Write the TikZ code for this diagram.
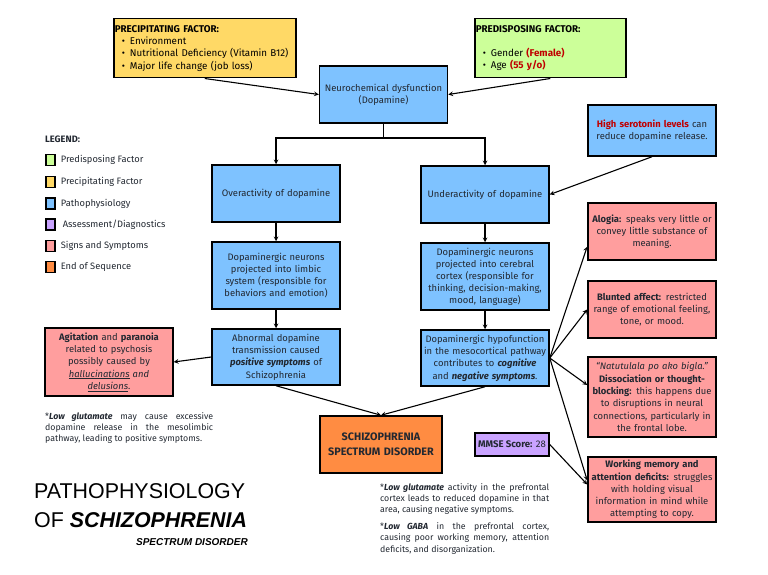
\documentclass[tikz,border=0pt]{standalone}
\usepackage{fontspec}
\setmainfont{Fira Sans}
\newfontfamily\titlefont{Liberation Sans}
\usetikzlibrary{arrows,positioning,calc}
\definecolor{predispgreen}{HTML}{CCFF99}
\definecolor{precipyellow}{HTML}{FFD966}
\definecolor{pathblue}{HTML}{7EC2FF}
\definecolor{assesspurple}{HTML}{C9A3FF}
\definecolor{signpink}{HTML}{FF9E9E}
\definecolor{endorange}{HTML}{FF8C42}
\definecolor{textred}{HTML}{C00000}
\definecolor{inktext}{HTML}{222831}
\hyphenpenalty=10000
\exhyphenpenalty=10000
\tikzstyle{factbox}=[draw,line width=1.5pt,anchor=north west,align=left,inner sep=1pt,font=\fontsize{9.8}{12.3}\selectfont]
\tikzstyle{pathbox}=[draw,line width=1.5pt,fill=pathblue,text=inktext,align=center,text width=126pt,inner sep=1pt,font=\fontsize{9.4}{12.3}\selectfont]
\tikzstyle{signbox}=[pathbox,fill=signpink]
\tikzstyle{legbox}=[draw,line width=1.3pt,minimum width=9pt,minimum height=11pt,inner sep=0pt]
\tikzstyle{legtext}=[anchor=west,inner sep=0pt,text=inktext,font=\fontsize{9.3}{10}\selectfont]
\tikzstyle{notetext}=[anchor=north west,align=justify,inner sep=0pt,text=inktext,font=\fontsize{8.8}{11.4}\selectfont]
\tikzstyle{link}=[-stealth,line width=1.1pt]
\newcommand{\factitem}{\hspace*{7pt}\textbullet\hspace{5pt}}

\begin{document}
\begin{tikzpicture}[x=1pt,y=-1pt]
    \useasboundingbox (0,0) rectangle (768,575);
    \node [factbox,fill=precipyellow,minimum width=182pt,minimum height=59pt,text width=180pt] (prec) at (113,18)
      {\textbf{PRECIPITATING FACTOR:}\\
       \factitem Environment\\
       \factitem Nutritional Deficiency (Vitamin B12)\\
       \factitem Major life change (job loss)};
    \node [factbox,fill=predispgreen,minimum width=151pt,minimum height=59pt,text width=149pt] (predisp) at (474,18)
      {\textbf{PREDISPOSING FACTOR:}\\[12pt]
       \factitem Gender {\color{textred}\bfseries(Female)}\\
       \factitem Age {\color{textred}\bfseries(55 y/o)}};
    \node [pathbox,minimum height=57pt] (neuro) at (383.5,94.5) {Neurochemical dysfunction\\(Dopamine)};
    \node [pathbox,minimum height=51pt] (sero) at (652,130.5)
      {{\color{textred}\bfseries High serotonin levels} can\\reduce dopamine release.};
    \node [pathbox,minimum height=57pt] (over) at (276,193.5) {Overactivity of dopamine};
    \node [pathbox,minimum height=57pt] (under) at (485,194.5) {Underactivity of dopamine};
    \node [pathbox,minimum height=67pt] (limbic) at (276,275.5)
      {Dopaminergic neurons\\projected into limbic\\system (responsible for\\behaviors and emotion)};
    \node [pathbox,minimum height=67pt,font=\fontsize{9.4}{12}\selectfont] (cereb) at (485,276.5)
      {Dopaminergic neurons\\projected into cerebral\\cortex (responsible for\\thinking, decision-making,\\mood, language)};
    \node [pathbox,minimum height=56pt] (abnormal) at (276,357)
      {Abnormal dopamine\\transmission caused\\\textbf{\textit{positive symptoms}} of\\Schizophrenia};
    \node [pathbox,minimum height=56pt] (hypo) at (485,358)
      {Dopaminergic hypofunction\\in the mesocortical pathway\\contributes to \textbf{\textit{cognitive}}\\and \textbf{\textit{negative symptoms}}.};
    \node [signbox,minimum height=68pt] (agitation) at (109,362)
      {\textbf{Agitation} and \textbf{paranoia}\\related to psychosis\\possibly caused by\\\textit{\underline{hallucinations} and}\\\textit{\underline{delusions}}.};
    \node [pathbox,fill=endorange,minimum height=57pt,text width=120pt,font=\fontsize{10.8}{15}\selectfont\bfseries] (schizo) at (381,444.5)
      {SCHIZOPHRENIA\\SPECTRUM DISORDER};
    \node [pathbox,fill=assesspurple,minimum width=74pt,minimum height=23pt,text width=,inner sep=1pt,font=\fontsize{9.6}{11}\selectfont] (mmse) at (512,444.5)
      {\textbf{MMSE Score:} 28};
    \node [signbox,minimum height=57pt] (alogia) at (652,231.5)
      {\textbf{Alogia:} speaks very little or\\convey little substance of\\meaning.};
    \node [signbox,minimum height=57pt] (blunted) at (652,309.5)
      {\textbf{Blunted affect:} restricted\\range of emotional feeling,\\tone, or mood.};
    \node [signbox,minimum height=80pt] (dissoc) at (652,397)
      {\textit{``Natutulala po ako bigla.''}\\\textbf{Dissociation or thought-}\\\textbf{blocking:} this happens due\\to disruptions in neural\\connections, particularly in\\the frontal lobe.};
    \node [signbox,minimum height=65pt] (working) at (652,489.5)
      {\textbf{Working memory and}\\\textbf{attention deficits:} struggles\\with holding visual\\information in mind while\\attempting to copy.};

    \node [legtext,font=\fontsize{9.3}{10}\selectfont\bfseries] (legend) at (45,139) {LEGEND:};
    \node [legbox,fill=predispgreen] (lg1) at (50.5,160) {};
    \node [legbox,fill=precipyellow] (lg2) at (50.5,182) {};
    \node [legbox,fill=pathblue] (lg3) at (50.5,203.5) {};
    \node [legbox,fill=assesspurple] (lg4) at (50.5,224.5) {};
    \node [legbox,fill=signpink] (lg5) at (50.5,246) {};
    \node [legbox,fill=endorange] (lg6) at (50.5,267) {};
    \node [legtext,right=5pt of lg1] {Predisposing Factor};
    \node [legtext,right=5pt of lg2] {Precipitating Factor};
    \node [legtext,right=5pt of lg3] {Pathophysiology};
    \node [legtext,right=7pt of lg4] {Assessment/Diagnostics};
    \node [legtext,right=5pt of lg5] {Signs and Symptoms};
    \node [legtext,right=5pt of lg6] {End of Sequence};

    \node [notetext,text width=168pt] (noteleft) at (45,412)
      {*\textbf{\textit{Low glutamate}} may cause excessive dopamine release in the mesolimbic pathway, leading to positive symptoms.};
    \node [notetext,text width=169pt] (notebottom) at (380,483)
      {*\textbf{\textit{Low glutamate}} activity in the prefrontal cortex leads to reduced dopamine in that area, causing negative symptoms.\par\vspace{5pt}
       *\textbf{\textit{Low GABA}} in the prefrontal cortex,\linebreak causing poor working memory, attention deficits, and disorganization.};

    \node [anchor=base west,inner sep=0pt,font=\titlefont\fontsize{21.4}{21}\selectfont] (title1) at (34,498) {PATHOPHYSIOLOGY};
    \node [anchor=base west,inner sep=0pt,font=\titlefont\fontsize{21.4}{21}\selectfont] (title2) at (34,527) {OF \textbf{\textit{SCHIZOPHRENIA}}};
    \node [anchor=base east,inner sep=0pt,font=\titlefont\fontsize{10}{10}\selectfont\bfseries\itshape] (title3) at (248,545) {SPECTRUM DISORDER};

    \coordinate (split) at (383.5,138);
    \draw [link] (prec.south) -- (neuro.west);
    \draw [link] (predisp.south) -- (neuro.east);
    \draw [line width=1.1pt] (neuro.south) -- (split);
    \draw [link] (split) -| (over.north);
    \draw [link] (split) -| (under.north);
    \draw [link] (sero.south) -- (under.east);
    \draw [link] (over) -- (limbic);
    \draw [link] (limbic) -- (abnormal);
    \draw [link] (under) -- (cereb);
    \draw [link] (cereb) -- (hypo);
    \draw [link] (abnormal.west) -- (agitation.east);
    \draw [link] (abnormal.south) -- (schizo.north);
    \draw [link] (hypo.south) -- (schizo.north);
    \draw [link] (hypo.east) -- ([yshift=-15pt]alogia.west);
    \draw [link] (hypo.east) -- (blunted.west);
    \draw [link] (hypo.east) -- ([yshift=12pt]dissoc.west);
    \draw [link] (hypo.east) -- ([yshift=9pt]working.west);
    \draw [link] (mmse.east) -- ([yshift=5pt]working.west);
\end{tikzpicture}
\end{document}
